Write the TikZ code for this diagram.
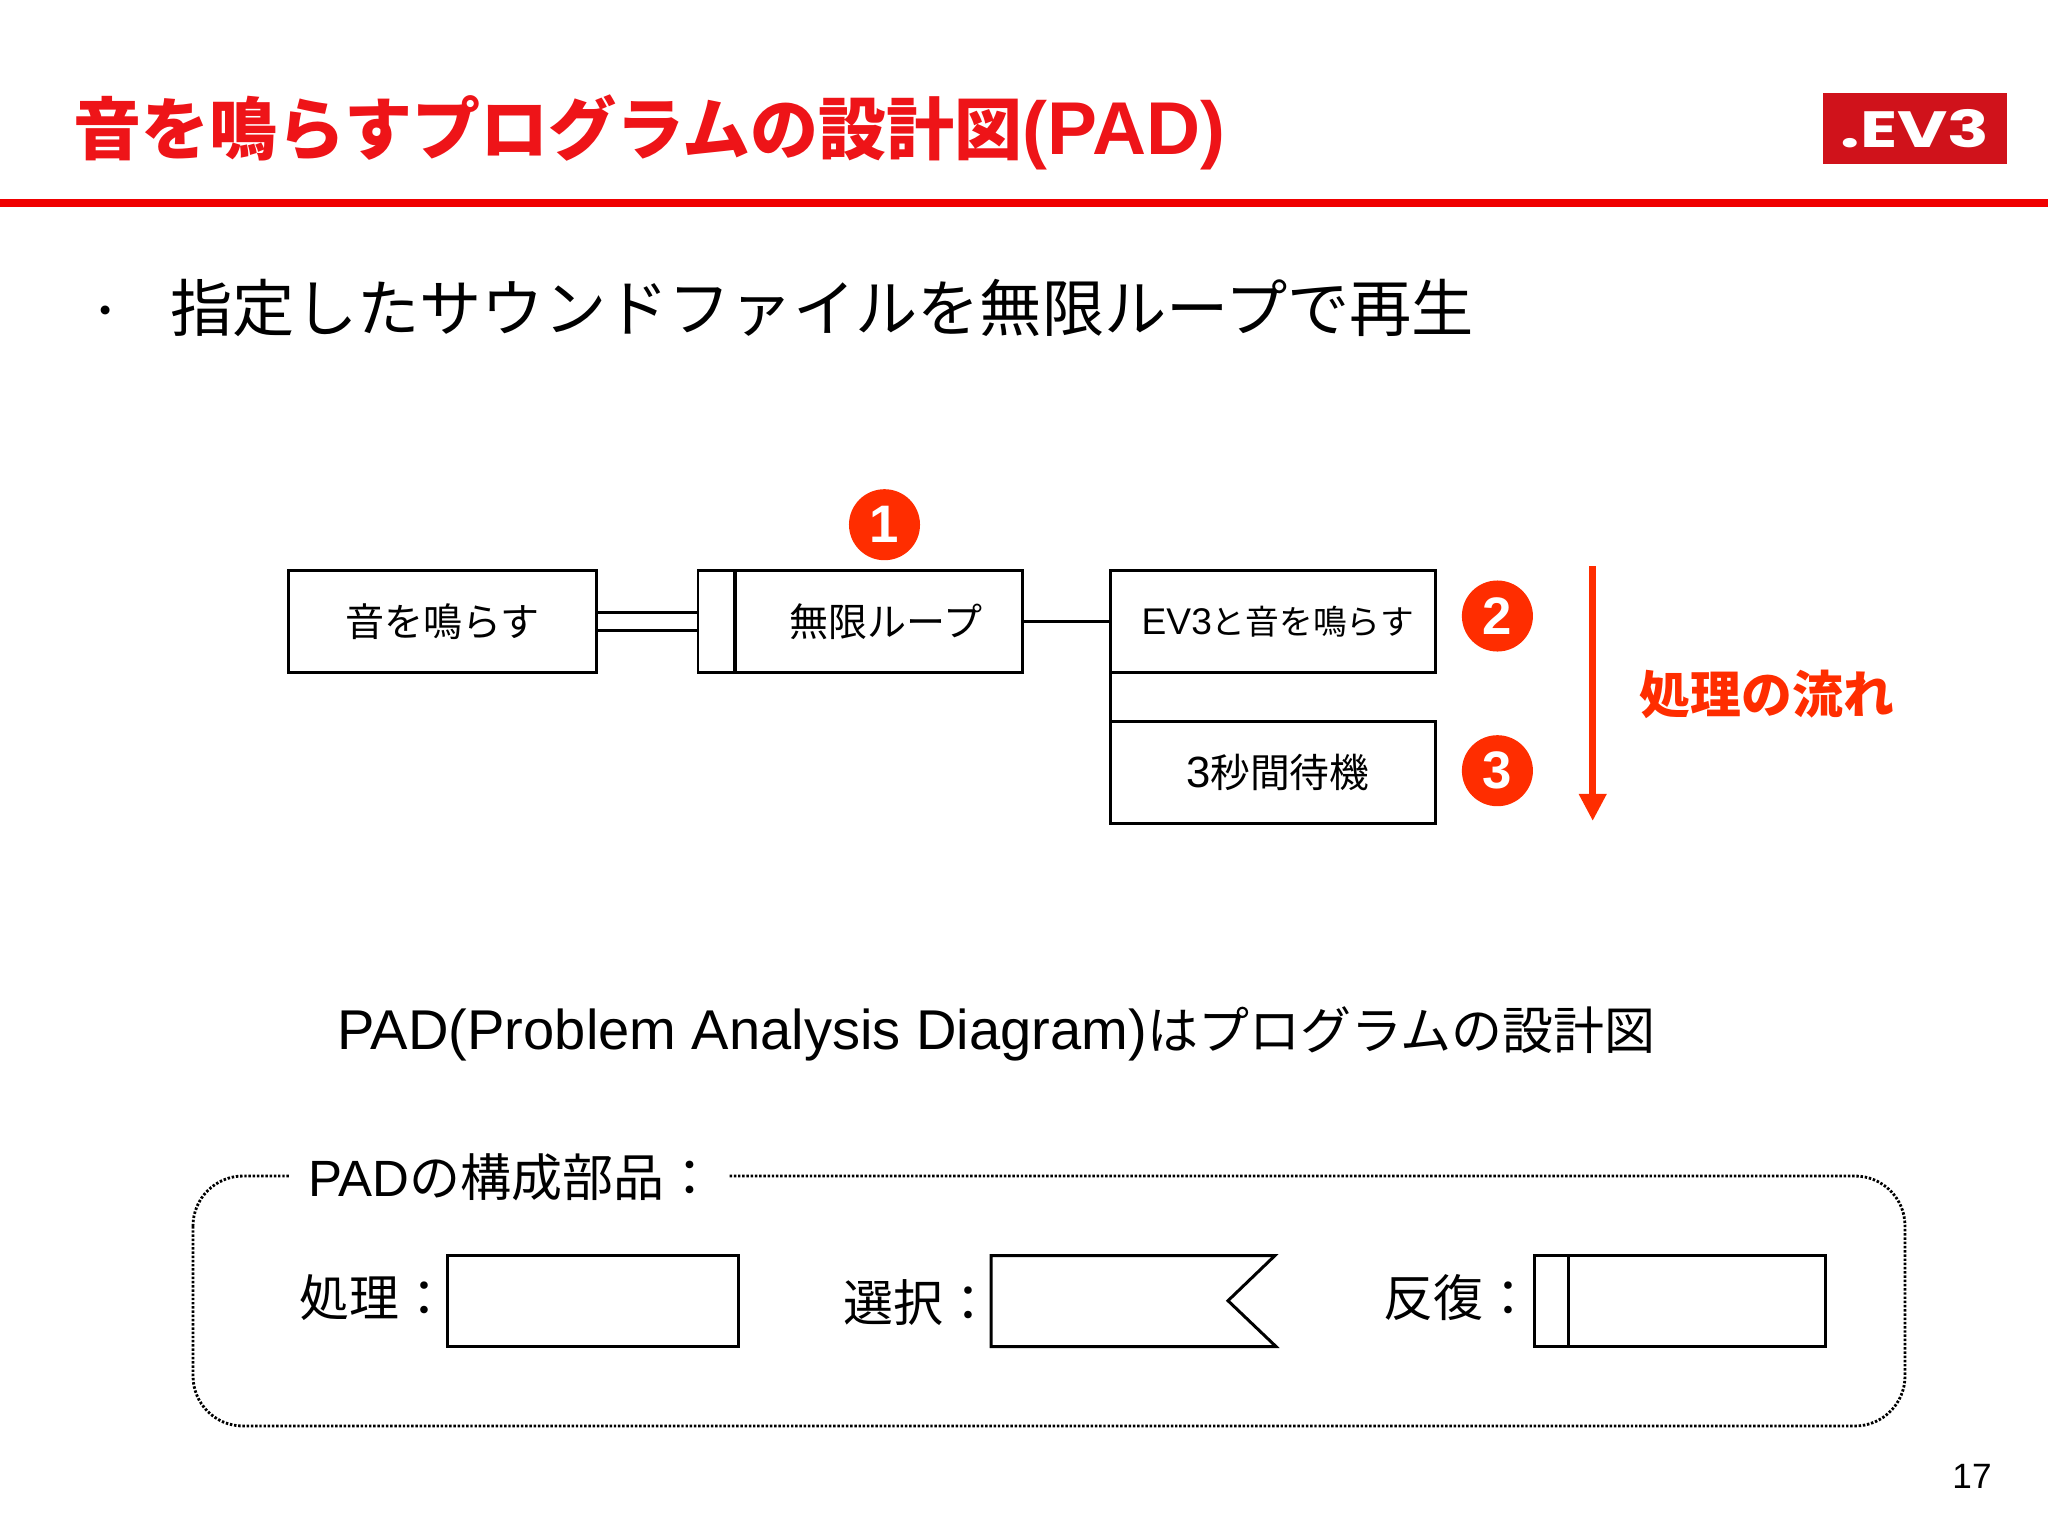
\documentclass[tikz,border=0pt]{standalone}
\usepackage{fontspec}
\usepackage{xcolor}
\usetikzlibrary{arrows.meta}
\setmainfont{Noto Sans CJK JP}
\newfontfamily\latinfont[Scale=1.1]{Liberation Sans}
\newfontfamily\padfont{Liberation Sans}
\newfontfamily\logofont{Poppins}
\definecolor{titlered}{HTML}{EE1418}
\definecolor{rulered}{HTML}{F00000}
\definecolor{logored}{HTML}{D0121B}
\definecolor{flowred}{HTML}{FF2D00}
\newcommand{\fsz}[1]{\fontsize{#1}{#1}\selectfont}
\tikzset{>=stealth}
\tikzset{
  padbox/.style={draw,line width=.85pt,inner sep=0pt,outer sep=0pt,minimum height=1.02cm},
  partbox/.style={draw,line width=.85pt,inner sep=0pt,outer sep=0pt,minimum height=.905cm},
  badge/.style={circle,fill=flowred,text=white,inner sep=0pt,minimum size=.71cm,font=\padfont\bfseries\fsz{15}},
  partlabel/.style={anchor=west,inner sep=0pt,font=\fsz{14.2}},
  linkline/.style={line width=.85pt},
}
\begin{document}
\begin{tikzpicture}[x=0.01cm,y=-0.01cm]
      \useasboundingbox (0,0) rectangle (2048,1536);
      % header
      \node[anchor=west,inner sep=0pt,text=titlered,font=\bfseries\fsz{19.35}] at (73,132) (title) {音を鳴らすプログラムの設計図{\latinfont (PAD)}};
      \fill[rulered] (0,199) rectangle (2048,207);
      \node[fill=logored,text=white,minimum width=1.84cm,minimum height=.71cm,inner sep=0pt,font=\logofont\bfseries\fsz{14.5}] at (1915,128.5) (logo) {\scalebox{1.35}[1]{.EV3}};
      \node[inner sep=0pt,font=\fsz{12}] at (106,316) (bullet) {・};
      \node[anchor=west,inner sep=0pt,font=\fsz{17.7}] at (170,308) (lead) {指定したサウンドファイルを無限ループで再生};
      % diagram
      \node[padbox,minimum width=3.074cm,font=\fsz{11.1}] at (442.3,621.5) (sound) {音を鳴らす};
      \node[padbox,minimum width=.37cm] at (716.5,621.5) (loopbar) {};
      \node[padbox,minimum width=2.87cm,font=\fsz{11.1}] at (878.5,621.5) (loopbody) {\hspace*{.15cm}無限ループ};
      \node[padbox,minimum width=3.245cm,font=\fsz{9.6}] at (1272.75,621.5) (ev3) {\hspace*{.1cm}{\latinfont EV3}と音を鳴らす};
      \node[padbox,minimum width=3.245cm,font=\fsz{11.3}] at (1272.75,772.2) (wait) {\hspace*{.1cm}{\latinfont 3}秒間待機};
      \draw[linkline] ([yshift=.087cm]sound.east)--([yshift=.087cm]loopbar.west);
      \draw[linkline] ([yshift=-.087cm]sound.east)--([yshift=-.087cm]loopbar.west);
      \draw[linkline] (loopbody.east)--(ev3.west);
      \draw[linkline] (ev3.south west)--(wait.north west);
      \node[badge] at (884.5,524.7) (one) {1};
      \node[badge] at (1497.4,616) (two) {2};
      \node[badge] at (1497.4,770.7) (three) {3};
      \coordinate (flowstart) at (1592.7,566);
      \coordinate (flowend) at (1592.7,821);
      \draw[line width=2pt,flowred,-{Stealth[length=.27cm,width=.26cm,inset=0pt]}] (flowstart)--(flowend);
      \node[text=flowred,inner sep=0pt,font=\bfseries\fsz{14.45}] at (1767,694) (flow) {処理の流れ};
      \node[anchor=west,inner sep=0pt,font=\fsz{14.5}] at (337,1034) (pad) {{\latinfont PAD(Problem Analysis Diagram)}はプログラムの設計図};
      % parts
      \draw[line width=.8pt,dash pattern=on .7pt off .5pt,rounded corners=.5cm] (193,1176) rectangle (1905,1426);
      \node[anchor=west,fill=white,inner xsep=.13cm,inner ysep=0pt,font=\fsz{14.5}] at (288,1177) (parts) {\hspace*{.07cm}{\padfont PAD}の構成部品：};
      \node[partlabel] at (299,1298) (proclabel) {処理：};
      \node[partbox,minimum width=2.902cm] at (592.9,1301) (procbox) {};
      \node[partlabel] at (843,1303) (sellabel) {選択：};
      \draw[line width=.85pt,line join=miter] (991,1255.5)--(1275,1255.5)--(1228,1300.7)--(1276,1346.5)--(991,1346.5)--cycle;
      \node[partlabel] at (1382.6,1298) (replabel) {反復：};
      \node[partbox,minimum width=.346cm] at (1551.3,1301) (repbar) {};
      \node[partbox,minimum width=2.572cm] at (1697.2,1301) (repbody) {};
      \node[inner sep=0pt,font=\padfont\fsz{10}] at (1972,1476) (page) {17};
\end{tikzpicture}
\end{document}
